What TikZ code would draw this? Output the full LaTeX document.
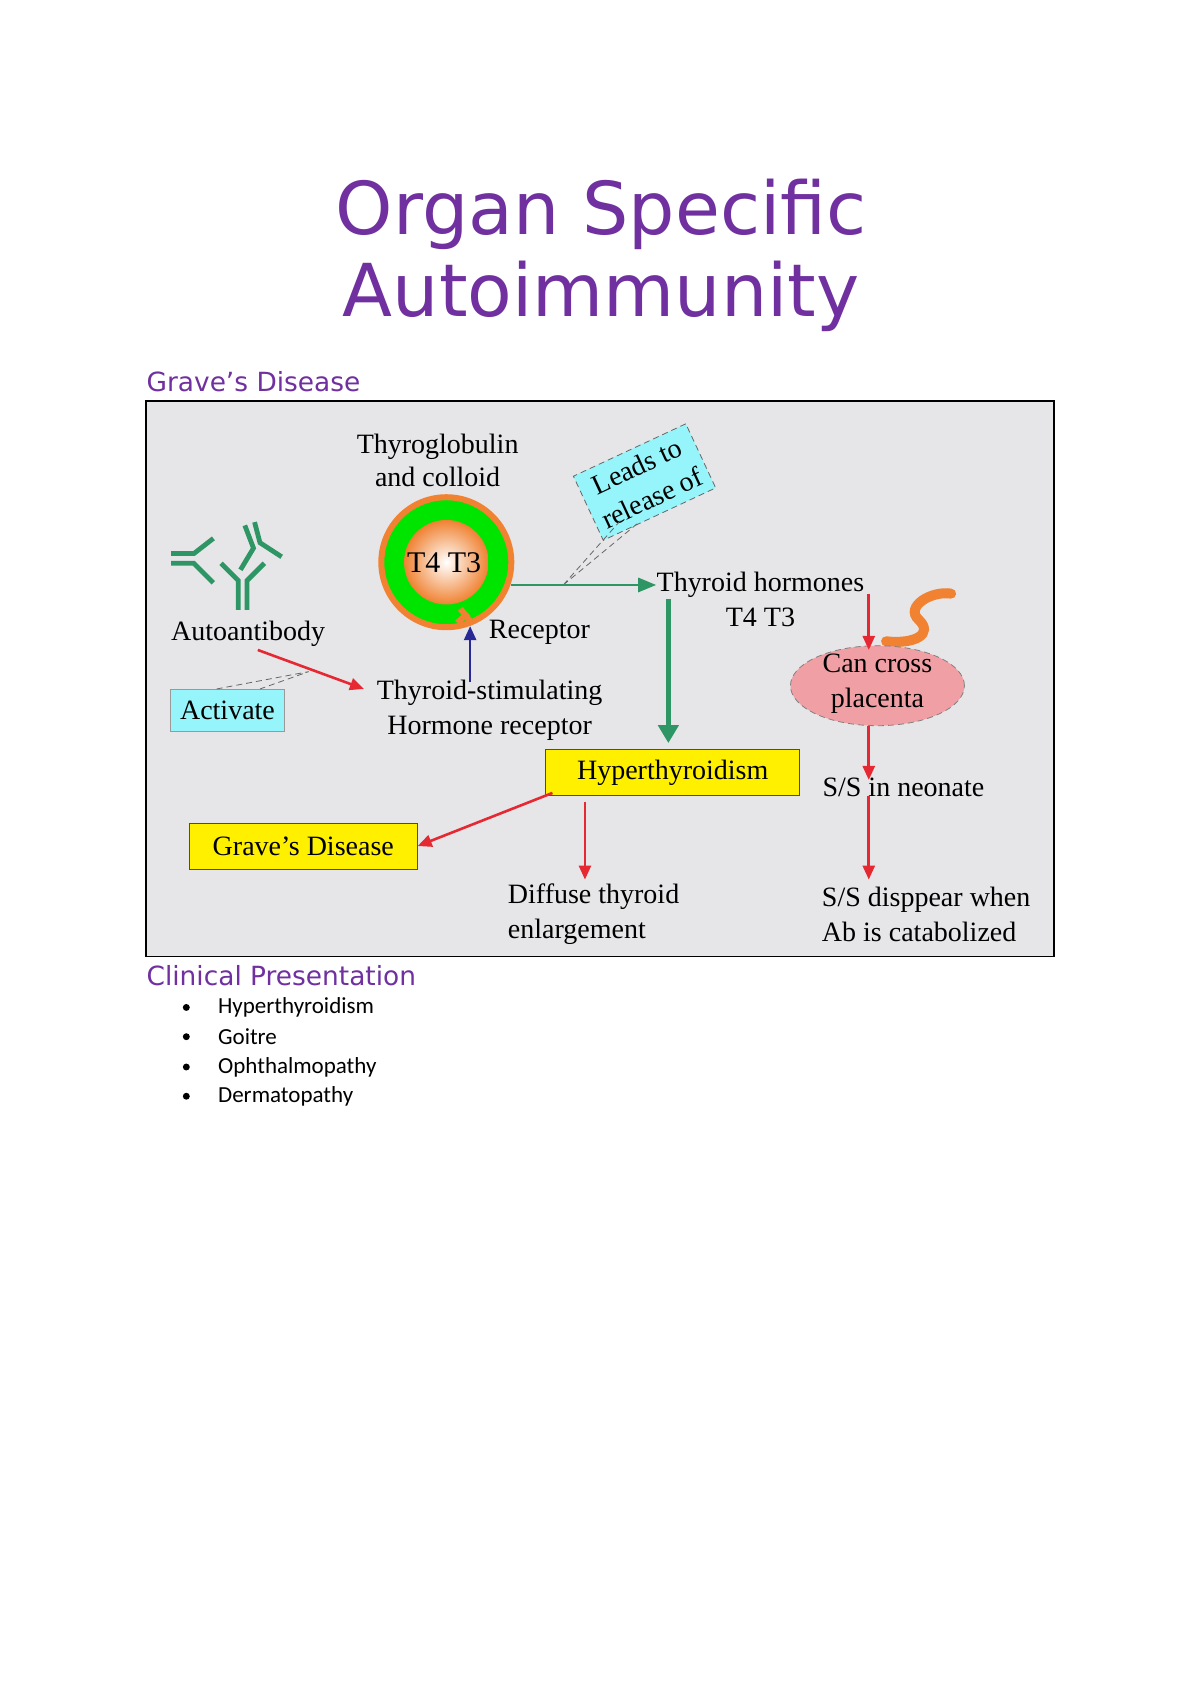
\documentclass[tikz,border=0pt]{standalone}
\usepackage{fontspec}
\setmainfont{Liberation Serif}
\newfontfamily\dvs{DejaVu Sans}
\newfontfamily\carl{Carlito}
\usetikzlibrary{arrows.meta,shapes.geometric}
\definecolor{ttl}{RGB}{112,48,160}
\definecolor{bg}{RGB}{230,230,232}
\definecolor{grn}{RGB}{46,150,100}
\definecolor{cyanb}{RGB}{150,245,250}
\definecolor{yel}{RGB}{255,240,0}
\definecolor{rd}{RGB}{230,40,50}
\definecolor{org}{RGB}{240,130,50}
\definecolor{pnk}{RGB}{240,160,165}
\definecolor{blu}{RGB}{40,40,150}
\begin{document}
\begin{tikzpicture}[x=0.5417pt,y=-0.5417pt,
  t/.style={font=\fontsize{14}{17.5}\selectfont,inner sep=0pt,align=center},
  hd/.style={font=\dvs\fontsize{13.2}{16}\selectfont,text=ttl,anchor=west,inner sep=0pt},
  bl/.style={font=\carl\fontsize{11.5}{14}\selectfont,anchor=west,inner sep=0pt},
  ra/.style={draw=rd,line width=1.3pt,-{Triangle[length=7pt,width=6pt]}},
  ybox/.style={draw=black!70,fill=yel,font=\fontsize{14}{16}\selectfont,inner sep=0pt,minimum height=23pt}]
\useasboundingbox (0,0) rectangle (1107.7,1567.5);
\fill[white] (0,0) rectangle (1107.7,1567.5);
\node[font=\dvs\fontsize{36.5}{41}\selectfont,text=ttl,align=center] (title) at (555,236) {Organ Specific\\Autoimmunity};
\node[hd] (h1) at (135,352) {Grave’s Disease};
\draw[fill=bg,draw=black,line width=0.8pt] (135,370) rectangle (973,883);
% thyroid
\node[t,font=\fontsize{14}{16.5}\selectfont] (tg) at (404,425) {Thyroglobulin\\and colloid};
\draw[draw=org,line width=3pt,fill=green!90!black] (412,519) circle (60);
\shade[inner color=white,outer color=org] (412,519) circle (39);
\node[t,font=\fontsize{15}{17}\selectfont] (t43) at (410,519) {T4 T3};
\coordinate (cr) at (472,540);
\draw[org,line width=3pt] (425,562) -- (436,576) (432,566)--(422,575);
% callout
\node[t,fill=cyanb,draw=black!60,densely dashed,rotate=25,inner sep=4pt] (lead) at (595,445) {Leads to\\release of};
\coordinate (lp) at (520,540);
\draw[black!60,densely dashed] (lp) -- (575,478) (lp) -- (590,482);
\node[t] (th) at (702,553) {Thyroid hormones\\T4 T3};
\draw[grn,line width=1.4pt,-{Triangle[length=9pt,width=7pt]}] (cr) -- (th.west|-cr);
\draw[grn,line width=2.6pt,-{Triangle[length=9pt,width=10pt]}] (617,553) -- (617,686);
% antibodies
\begin{scope}[grn,line width=2.4pt]
\draw (158,511)--(179,511)--(197,497) (158,520)--(179,520)--(197,538);
\draw (220,563)--(220,536)--(204,520) (228,563)--(228,536)--(244,520);
\draw (226,485)--(234,506)--(222,526) (235,482)--(240,501)--(260,514);
\end{scope}
\node[t] (aa) at (229,585) {Autoantibody};
\node[t,fill=cyanb,draw=black!40,minimum width=57pt,minimum height=21pt] (act) at (210,656) {Activate};
\draw[black!60,densely dashed] (200,636) -- (285,620) -- (240,636);
\node[t] (tsh) at (452,656) {Thyroid-stimulating\\Hormone receptor};
\draw[ra] (238,600) -- (336,636);
\draw[blu,line width=1.3pt,-{Triangle[length=7pt,width=6pt]}] (434,630) -- (434,578);
\node[t] (rec) at (498,584) {Receptor};
% hyper
\node[ybox,minimum width=127pt] (hyp) at (621,713) {Hyperthyroidism};
\node[ybox,minimum width=114pt] (gd) at (280,781) {Grave’s Disease};
\draw[ra] (510,732) -- (gd.east);
\draw[ra] (540,740) -- (540,812);
\node[t,align=left] (dif) at (548,844) {Diffuse thyroid\\enlargement};
% placenta
\draw[org,line width=5pt,line cap=round] (878,548) .. controls (860,545) and (835,560) .. (848,572) .. controls (862,585) and (845,595) .. (818,592);
\node[ellipse,draw=black!50,densely dashed,fill=pnk,minimum width=87pt,minimum height=40pt] (pl) at (810,633) {};
\node[t] (cc) at (810,631) {Can cross\\placenta};
\draw[ra] (802,548) -- (802,600);
\draw[ra] (802,670) -- (802,720);
\node[t] (neo) at (834,727) {S/S in neonate};
\draw[ra] (802,735) -- (802,812);
\node[t,align=left] (dis) at (855,844) {S/S disppear when\\Ab is catabolized};
% clinical
\node[hd] (h2) at (135,901) {Clinical Presentation};
\foreach \y/\s [count=\i] in {930/Hyperthyroidism,957/Goitre,985/Ophthalmopathy,1012/Dermatopathy}{
  \fill (172,\y) circle (3.2);
  \node[bl] (b\i) at (201,\y) {\s};
}
\end{tikzpicture}
\end{document}
